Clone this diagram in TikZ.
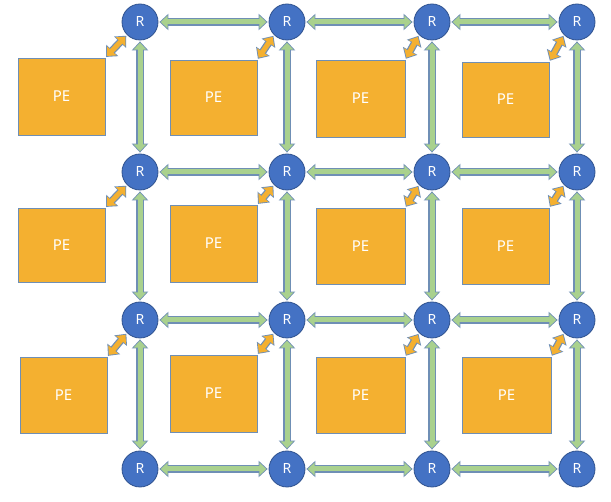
\documentclass[tikz,border=0pt]{standalone}
\usepackage{fontspec}
\setmainfont{Noto Sans}
\usetikzlibrary{arrows.meta}
\definecolor{rb}{HTML}{4472C4}
\definecolor{rbd}{HTML}{2F528F}
\definecolor{pe}{HTML}{F4B030}
\definecolor{gr}{HTML}{A9D18E}
\definecolor{ol}{HTML}{6F8FB5}
\begin{document}
\begin{tikzpicture}[x=1pt,y=-1pt,
  rnode/.style={circle,fill=rb,draw=rbd,line width=0.8pt,minimum size=36pt,inner sep=0pt,text=white,font=\fontsize{14}{14}\selectfont},
  penode/.style={fill=pe,draw=ol,line width=0.7pt,inner sep=0pt,text=white,font=\fontsize{15}{15}\selectfont},
  outer/.style={line width=7.5pt,draw=ol,{Triangle[length=9pt,width=16pt]}-{Triangle[length=9pt,width=16pt]},shorten <=1pt,shorten >=1pt},
  inner/.style={line width=5pt,{Triangle[length=7pt,width=12.5pt]}-{Triangle[length=7pt,width=12.5pt]},shorten <=2.3pt,shorten >=2.3pt}]
\useasboundingbox (0,0) rectangle (611,502);
\def\xs{{140,287,432,577}}
\def\ys{{22,172,320,469}}
\foreach \i in {0,...,3}{\foreach \j in {0,...,3}{
  \pgfmathsetmacro\xx{\xs[\i]}\pgfmathsetmacro\yy{\ys[\j]}
  \node[rnode] (r\i\j) at (\xx,\yy) {R};}}
% PE boxes: (x1,y1,x2,y2)
\foreach \i/\j/\a/\b/\c/\d in {
 0/0/18/58/105/135, 1/0/170/60/257/135, 2/0/316/60/405/137, 3/0/462/62/549/137,
 0/1/18/208/105/282, 1/1/170/205/257/282, 2/1/316/208/405/284, 3/1/462/208/549/284,
 0/2/20/357/107/433, 1/2/170/355/257/432, 2/2/316/357/405/433, 3/2/462/357/551/433}{
  \node[penode,minimum width={(\c-\a)*1pt},minimum height={(\d-\b)*1pt}] (p\i\j) at ({(\a+\c)/2},{(\b+\d)/2}) {PE};
}
\foreach \i in {0,...,3}{\foreach \j in {0,...,2}{
  \draw[outer] (p\i\j.north east) -- (r\i\j.south west);
  \draw[inner,draw=pe] (p\i\j.north east) -- (r\i\j.south west);}}
\foreach \j in {0,...,3}{\foreach \i/\k in {0/1,1/2,2/3}{
  \draw[outer] (r\i\j) -- (r\k\j);
  \draw[inner,draw=gr] (r\i\j) -- (r\k\j);}}
\foreach \i in {0,...,3}{\foreach \j/\k in {0/1,1/2,2/3}{
  \draw[outer] (r\i\j) -- (r\i\k);
  \draw[inner,draw=gr] (r\i\j) -- (r\i\k);}}
\end{tikzpicture}
\end{document}
